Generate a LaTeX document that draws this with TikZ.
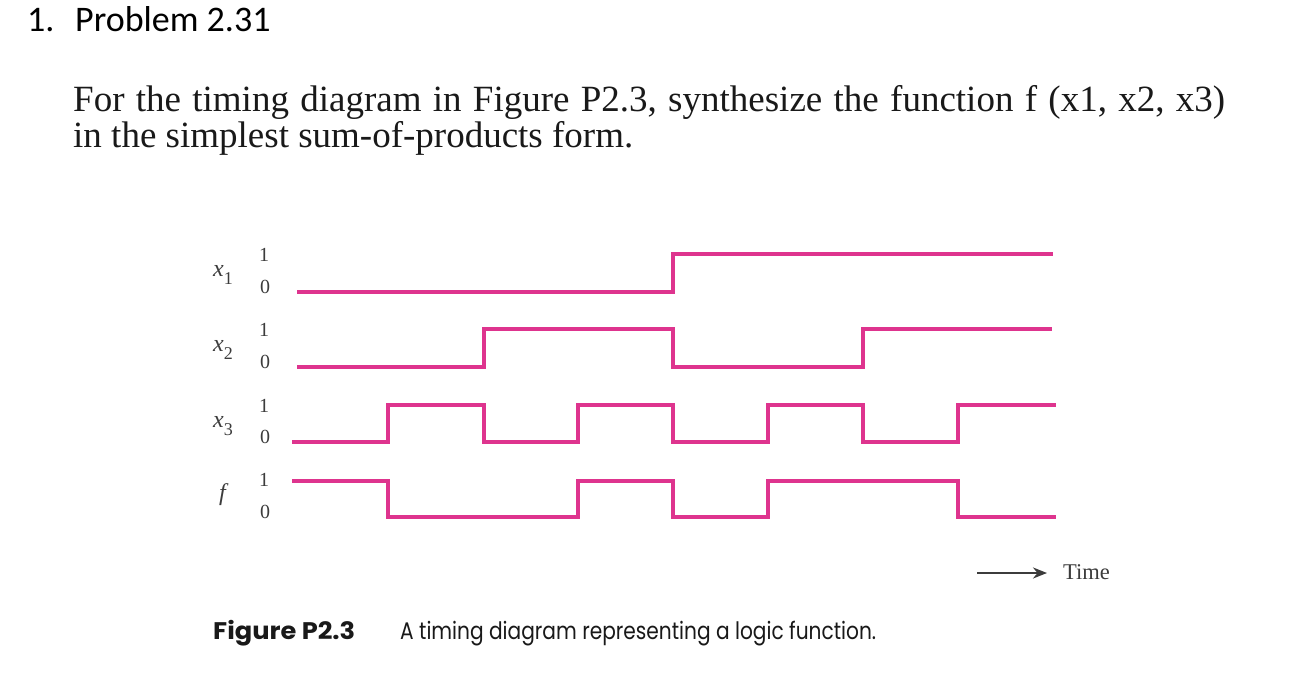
\documentclass[tikz,border=0pt]{standalone}
\usepackage{fontspec}
\setmainfont{Liberation Serif}
\newfontfamily\hdfont{Carlito}
\newfontfamily\capreg[FakeStretch=0.84]{Poppins}
\newfontfamily\capbold[FakeStretch=1.07]{Poppins}
\usetikzlibrary{arrows.meta}
\definecolor{wave}{RGB}{222,52,142}
\definecolor{txt}{RGB}{25,25,25}
\definecolor{lblc}{RGB}{60,60,60}
\newcommand{\sigsub}[1]{\raisebox{-8pt}{\upshape\fontsize{18}{18}\selectfont #1}}
\begin{document}
\begin{tikzpicture}[x=1pt,y=-1pt,
  wv/.style={draw=wave,line width=4.2pt,line join=miter,line cap=butt},
  hd/.style={anchor=base west,inner sep=0pt,text=black,font=\hdfont\fontsize{36}{40}\selectfont},
  body/.style={anchor=base west,inner sep=0pt,text=txt,font=\fontsize{37}{40}\selectfont},
  dig/.style={inner sep=0pt,text=lblc,font=\fontsize{20}{22}\selectfont},
  var/.style={anchor=base west,inner sep=0pt,text=lblc,font=\fontsize{24}{26}\selectfont\itshape},
  captxt/.style={anchor=base west,inner sep=0pt,text=txt,font=\capreg\fontsize{24}{26}\selectfont}]
\useasboundingbox (0,0) rectangle (1292,686);
\fill[white] (0,0) rectangle (1292,686);
% header
\node[hd] (num) at (27,31) {1.};
\node[hd] (prob) at (75,31) {Problem 2.31};
\node[body] (l1) at (73,111) {\spaceskip=11.3pt For the timing diagram in Figure P2.3, synthesize the function f (x1, x2, x3)};
\node[body] (l2) at (73,147) {in the simplest sum-of-products form.};
% signal names
\node[var] (nx1) at (213,276) {x\sigsub{1}};
\node[var] (nx2) at (213,351) {x\sigsub{2}};
\node[var] (nx3) at (213,427) {x\sigsub{3}};
\node[var] (nf) at (219,500) {f};
% levels
\node[dig] (a1) at (264,255) {1}; \node[dig] (a0) at (265,287) {0};
\node[dig] (b1) at (264,330) {1}; \node[dig] (b0) at (265,362) {0};
\node[dig] (c1) at (264,406) {1}; \node[dig] (c0) at (265,437) {0};
\node[dig] (d1) at (264,480) {1}; \node[dig] (d0) at (265,512) {0};
% waveforms
\draw[wv] (297,292) -- (673,292) -- (673,254) -- (1053,254);
\draw[wv] (297,367) -- (484,367) -- (484,329) -- (673,329) -- (673,367) -- (863,367) -- (863,329) -- (1052,329);
\draw[wv] (292,442) -- (388,442) -- (388,405) -- (484,405) -- (484,442) -- (578,442) -- (578,405) -- (673,405) -- (673,442) -- (768,442) -- (768,405) -- (863,405) -- (863,442) -- (958,442) -- (958,405) -- (1056,405);
\draw[wv] (292,481) -- (388,481) -- (388,517) -- (578,517) -- (578,481) -- (673,481) -- (673,517) -- (768,517) -- (768,481) -- (958,481) -- (958,517) -- (1056,517);
% time arrow
\node[anchor=west,inner sep=0pt,text=lblc,font=\fontsize{22.5}{24}\selectfont] (time) at (1063,572) {Time};
\coordinate (ta) at (977,573);
\draw[lblc,line width=2.2pt,-{Stealth[length=14pt,width=11pt]}] (ta) -- ([xshift=-16pt]time.west |- ta);
% caption
\node[captxt,font=\capbold\bfseries\fontsize{24}{26}\selectfont] (fig) at (213,639) {Figure P2.3};
\node[captxt] (capt) at (400,639) {A timing diagram representing a logic function.};
\end{tikzpicture}
\end{document}
